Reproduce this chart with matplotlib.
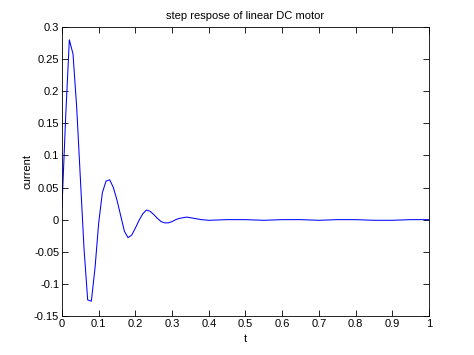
import matplotlib
matplotlib.use('Agg')
import matplotlib.pyplot as plt

plt.rcParams['font.family'] = ['Liberation Sans', 'DejaVu Sans']
plt.rcParams['font.size'] = 8

# sampled step response of the motor current
t = [0.00, 0.01, 0.02, 0.03, 0.04, 0.05, 0.06, 0.07, 0.08, 0.09,
     0.10, 0.11, 0.12, 0.13, 0.14, 0.15, 0.16, 0.17, 0.18, 0.19,
     0.20, 0.21, 0.22, 0.23, 0.24, 0.25, 0.26, 0.27, 0.28, 0.29,
     0.30, 0.31, 0.32, 0.33, 0.34, 0.35, 0.36, 0.37, 0.38, 0.40,
     0.45, 0.50, 0.55, 0.60, 0.65, 0.70, 0.75, 0.80, 0.85, 0.90,
     0.95, 1.00]
current = [0.020, 0.160, 0.280, 0.258, 0.175, 0.065, -0.045, -0.125, -0.127, -0.075,
           -0.005, 0.042, 0.060, 0.062, 0.050, 0.030, 0.006, -0.018, -0.028, -0.024,
           -0.013, -0.001, 0.009, 0.015, 0.013, 0.008, 0.002, -0.003, -0.005, -0.005,
           -0.003, 0.000, 0.002, 0.003, 0.004, 0.003, 0.002, 0.001, 0.000, -0.001,
           0.000, 0.000, -0.001, 0.000, 0.000, -0.001, 0.000, 0.000, -0.001, -0.001,
           0.000, 0.000]

fig = plt.figure(figsize=(4.74, 3.55), dpi=100)
ax = fig.add_axes([0.1308, 0.1099, 0.7742, 0.8141])
ax.plot(t, current, color='#0000ff', linewidth=0.75)

ax.set_xlim(0, 1)
ax.set_ylim(-0.15, 0.3)
ax.set_xticks([0, 0.1, 0.2, 0.3, 0.4, 0.5, 0.6, 0.7, 0.8, 0.9, 1])
ax.set_xticklabels(['0', '0.1', '0.2', '0.3', '0.4', '0.5', '0.6', '0.7', '0.8', '0.9', '1'])
ax.set_yticks([-0.15, -0.1, -0.05, 0, 0.05, 0.1, 0.15, 0.2, 0.25, 0.3])
ax.set_yticklabels(['-0.15', '-0.1', '-0.05', '0', '0.05', '0.1', '0.15', '0.2', '0.25', '0.3'])
ax.tick_params(direction='in', top=True, right=True, length=4, width=0.6, pad=2)
for s in ax.spines.values():
    s.set_linewidth(0.6)

ax.set_title('step respose of linear DC motor', fontsize=8, pad=6)
ax.set_xlabel('t', labelpad=4)
ax.set_ylabel('current', labelpad=1)

fig.savefig('out.png', dpi=100)
